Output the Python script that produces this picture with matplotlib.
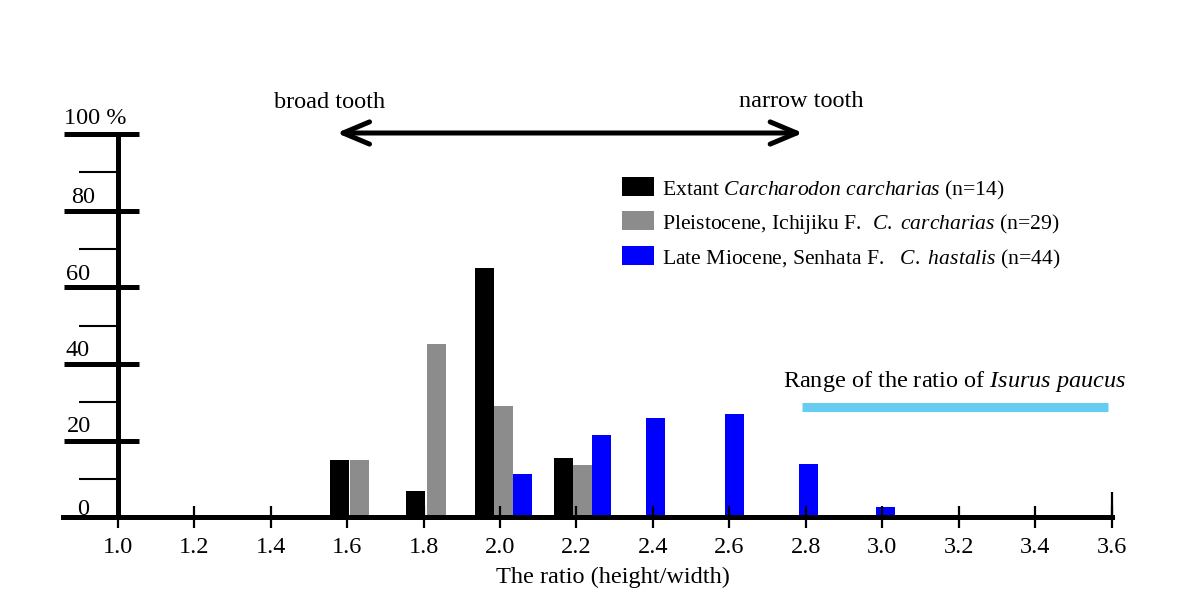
import matplotlib
matplotlib.use("Agg")
import matplotlib.pyplot as plt
from matplotlib.patches import Rectangle

plt.rcParams['font.family'] = ['Liberation Serif', 'DejaVu Serif']
plt.rcParams['mathtext.fontset'] = 'custom'
plt.rcParams['mathtext.rm'] = 'Liberation Serif'
plt.rcParams['mathtext.it'] = 'Liberation Serif:italic'

# ---- data ----
series_names = [
    'Extant $\\mathit{Carcharodon\\ carcharias}$ (n=14)',
    'Pleistocene, Ichijiku F.  $\\mathit{C.\\ carcharias}$ (n=29)',
    'Late Miocene, Senhata F.   $\\mathit{C.\\ hastalis}$ (n=44)',
]
series_colors = ['#000000', '#8c8c8c', '#0000ff']

extant_x = [1.580, 1.779, 1.960, 2.167]
extant_pct = [15.0, 6.9, 65.0, 15.5]
pleisto_x = [1.632, 1.834, 2.009, 2.216]
pleisto_pct = [15.0, 45.2, 29.0, 13.7]
miocene_x = [2.059, 2.265, 2.407, 2.613, 2.807, 3.008]
miocene_pct = [11.3, 21.5, 25.9, 27.0, 13.9, 2.7]

x_ticks = [1.0, 1.2, 1.4, 1.6, 1.8, 2.0, 2.2, 2.4, 2.6, 2.8, 3.0, 3.2, 3.4, 3.6]
x_tick_labels = ['1.0', '1.2', '1.4', '1.6', '1.8', '2.0', '2.2', '2.4', '2.6',
                 '2.8', '3.0', '3.2', '3.4', '3.6']
y_major = [0, 20, 40, 60, 80, 100]
y_major_labels = ['0', '20', '40', '60', '80', '100 %']
y_minor = [10, 30, 50, 70, 90]

isurus_range = [2.79, 3.59]
isurus_level = 28.9

bar_width = 0.05

# ---- figure ----
W, H = 1181, 600
fig = plt.figure(figsize=(W / 100, H / 100), dpi=100)
ax = fig.add_axes([63 / W, 82.7 / H, (1111.7 - 63) / W, 383.3 / H])
ax.set_xlim(0.8569, 3.6)
ax.set_ylim(0, 100)

for xs, ps, c in zip([extant_x, pleisto_x, miocene_x],
                     [extant_pct, pleisto_pct, miocene_pct], series_colors):
    ax.bar(xs, ps, width=bar_width, color=c, edgecolor='none', zorder=1)

# spines
for s in ['top', 'right']:
    ax.spines[s].set_visible(False)
ax.spines['left'].set_position(('data', 1.0))
ax.spines['left'].set_linewidth(3.6)
ax.spines['bottom'].set_linewidth(3.6)
ax.spines['left'].set_capstyle('butt')

# x ticks
ax.set_xticks(x_ticks)
ax.set_xticklabels(x_tick_labels, fontsize=17.5)
ax.tick_params(axis='x', direction='inout', length=15.5, width=1.6, pad=6.5,
               color='black')
ax.vlines(3.6, 0, 6.7, color='black', lw=1.6, clip_on=False, zorder=3)

# y ticks
ax.set_yticks(y_major)
ax.set_yticklabels([])
ax.tick_params(axis='y', which='major', length=0)
ax.set_yticks(y_minor, minor=True)
ax.tick_params(axis='y', which='minor', direction='out', length=28, width=1.5,
               color='black')
ax.hlines(y_major, 0.8595, 1.0557, color='black', lw=3.6, clip_on=False,
          zorder=3)

y_label_dx = [-41, -51, -52, -52, -47, -54]
y_label_dy = [2, 9, 8, 7, 8, 10]
for v, lab, dx, dy in zip(y_major, y_major_labels, y_label_dx, y_label_dy):
    ax.annotate(lab, xy=(1.0, v), xycoords='data', textcoords='offset pixels',
                xytext=(dx, dy), ha='left', va='baseline', fontsize=17.5,
                annotation_clip=False)

# x label
ax.set_xlabel('The ratio (height/width)', fontsize=17.5)
ax.xaxis.label.set_va('baseline')
ax.xaxis.set_label_coords((613 - 63) / (1111.7 - 63), (H - 583 - 82.7) / 383.3)

# Isurus paucus range
ax.hlines(isurus_level, isurus_range[0], isurus_range[1], color='#66ccf2',
          lw=6.5, capstyle='butt', clip_on=False, zorder=2)
ax.text(3.19, 34.0, 'Range of the ratio of $\\mathit{Isurus\\ paucus}$',
        ha='center', va='baseline', fontsize=17.5, clip_on=False)

# arrow with labels
ax.annotate('', xy=(803, H - 133), xycoords='figure pixels',
            xytext=(336.7, H - 133), textcoords='figure pixels',
            arrowprops=dict(arrowstyle='<->,head_length=1.9,head_width=0.8',
                            lw=3.6, color='black', shrinkA=0, shrinkB=0,
                            mutation_scale=10))
fig.text(329.5 / W, (H - 108) / H, 'broad tooth', ha='center', va='baseline',
         fontsize=17.5)
fig.text(801 / W, (H - 107) / H, 'narrow tooth', ha='center', va='baseline',
         fontsize=17.5)

# legend (manual)
leg_top = [177, 211, 246]
leg_base = [195, 229, 264]
for name, c, top, base in zip(series_names, series_colors, leg_top, leg_base):
    fig.add_artist(Rectangle((622 / W, (H - top - 19) / H), 32 / W, 19 / H,
                             transform=fig.transFigure, facecolor=c,
                             edgecolor='none'))
    fig.text(662 / W, (H - base) / H, name, ha='left', va='baseline',
             fontsize=15.6)

fig.savefig('out.png', dpi=100)
